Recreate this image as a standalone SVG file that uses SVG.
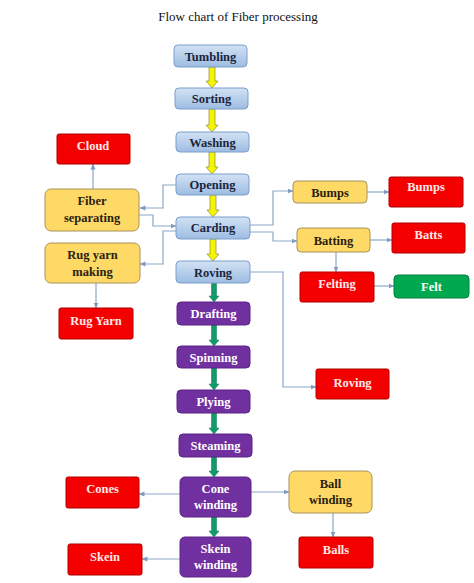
<svg xmlns="http://www.w3.org/2000/svg" width="474" height="583" viewBox="0 0 474 583">
<defs>
<linearGradient id="gBlue" x1="0" y1="0" x2="0" y2="1">
<stop offset="0" stop-color="#d3e2f4"/>
<stop offset="1" stop-color="#9dbce2"/>
</linearGradient>
<marker id="ah" markerWidth="6" markerHeight="6" refX="5.5" refY="3" orient="auto" markerUnits="userSpaceOnUse">
<path d="M0,0.5 L6,3 L0,5.5 Z" fill="#7f9cc0"/>
</marker>
<style>
.t{font-family:"Liberation Serif","Times New Roman",serif;font-size:12.5px;font-weight:bold;text-anchor:middle}
.title{font-family:"Liberation Serif","Times New Roman",serif;font-size:13px;text-anchor:middle;fill:#111}
.blue rect{fill:url(#gBlue);stroke:#7a9fcc;stroke-width:1}
.blue text{fill:#1b2540}
.yel rect{fill:#ffd966;stroke:#a8925a;stroke-width:1}
.yel text{fill:#2a2210}
.pur rect{fill:#7030a0;stroke:#5a2585;stroke-width:1}
.pur text{fill:#ffffff}
.red rect{fill:#f40000;stroke:#b00000;stroke-width:1}
.red text{fill:#ffe8e8}
.grn rect{fill:#00a94f;stroke:#00803c;stroke-width:1}
.grn text{fill:#ffffff}
.c{fill:none;stroke:#8ea8c8;stroke-width:1.2;marker-end:url(#ah)}
.ya{fill:#f5f500;stroke:#8a8a40;stroke-width:0.7}
.ga{fill:#139a6a;stroke:#0d7a52;stroke-width:0.5}
</style>
</defs>
<rect width="474" height="583" fill="#ffffff"/>
<text class="title" x="238" y="21">Flow chart of Fiber processing</text>

<g id="connectors">
<!-- main flow yellow arrows -->
<path class="ya" d="M209,67 H215 V81 H218 L212,88 L206,81 H209 Z"/>
<path class="ya" d="M209,109 H215 V125 H218 L212,132 L206,125 H209 Z"/>
<path class="ya" d="M209,152 H215 V167 H218 L212,174 L206,167 H209 Z"/>
<path class="ya" d="M210,195 H216 V210 H219 L213,217 L207,210 H210 Z"/>
<path class="ya" d="M210,239 H216 V254 H219 L213,261 L207,254 H210 Z"/>
<!-- green arrows -->
<path class="ga" d="M211.5,283 H216.5 V296 H219 L214,302 L209,296 H211.5 Z"/>
<path class="ga" d="M211.5,325 H216.5 V340 H219 L214,346 L209,340 H211.5 Z"/>
<path class="ga" d="M211.5,368 H216.5 V384 H219 L214,390 L209,384 H211.5 Z"/>
<path class="ga" d="M211.5,413 H216.5 V428 H219 L214,434 L209,428 H211.5 Z"/>
<path class="ga" d="M211.5,457 H216.5 V471 H219 L214,477 L209,471 H211.5 Z"/>
<path class="ga" d="M211.5,517 H216.5 V531 H219 L214,537 L209,531 H211.5 Z"/>
<!-- thin connectors -->
<path class="c" d="M93,189 V164"/>
<path class="c" d="M176,185 H163 V208 H140"/>
<path class="c" d="M139,215 H153 V226 H176"/>
<path class="c" d="M176,231 H163 V264 H140"/>
<path class="c" d="M96,283 V308"/>
<path class="c" d="M250,225 H273 V191 H293"/>
<path class="c" d="M250,232 H273 V241 H297"/>
<path class="c" d="M367,192 H389"/>
<path class="c" d="M370,240 H392"/>
<path class="c" d="M336,252 V272"/>
<path class="c" d="M374,286 H394"/>
<path class="c" d="M250,272 H283 V387 H316"/>
<path class="c" d="M180,494 H139"/>
<path class="c" d="M250,492 H289"/>
<path class="c" d="M180,559 H142"/>
<path class="c" d="M333,513 V537"/>
</g>

<g id="tumbling" class="blue"><rect x="174" y="45" width="73" height="22" rx="4"/><text class="t" x="210.5" y="60.5">Tumbling</text></g>
<g id="sorting" class="blue"><rect x="175" y="88" width="73" height="21" rx="4"/><text class="t" x="211.5" y="103">Sorting</text></g>
<g id="washing" class="blue"><rect x="176" y="132" width="73" height="20" rx="4"/><text class="t" x="212.5" y="146.5">Washing</text></g>
<g id="opening" class="blue"><rect x="176" y="174" width="73" height="21" rx="4"/><text class="t" x="212.5" y="189">Opening</text></g>
<g id="carding" class="blue"><rect x="176" y="217" width="74" height="22" rx="4"/><text class="t" x="213" y="232">Carding</text></g>
<g id="roving" class="blue"><rect x="176" y="261" width="74" height="22" rx="4"/><text class="t" x="213" y="276.5">Roving</text></g>

<g id="drafting" class="pur"><rect x="177" y="302" width="73" height="23" rx="4"/><text class="t" x="213.5" y="318">Drafting</text></g>
<g id="spinning" class="pur"><rect x="177" y="346" width="73" height="22" rx="4"/><text class="t" x="213.5" y="361.5">Spinning</text></g>
<g id="plying" class="pur"><rect x="177" y="390" width="73" height="23" rx="4"/><text class="t" x="213.5" y="406">Plying</text></g>
<g id="steaming" class="pur"><rect x="179" y="434" width="73" height="23" rx="4"/><text class="t" x="215.5" y="450">Steaming</text></g>
<g id="cone-winding" class="pur"><rect x="180" y="477" width="71" height="40" rx="5"/><text class="t" x="215.5" y="493">Cone</text><text class="t" x="215.5" y="509">winding</text></g>
<g id="skein-winding" class="pur"><rect x="180" y="537" width="71" height="40" rx="5"/><text class="t" x="215.5" y="553">Skein</text><text class="t" x="215.5" y="569">winding</text></g>

<g id="fiber-separating" class="yel"><rect x="45" y="189" width="94" height="42" rx="6"/><text class="t" x="92" y="205">Fiber</text><text class="t" x="92" y="222">separating</text></g>
<g id="rug-yarn-making" class="yel"><rect x="45" y="243" width="95" height="40" rx="6"/><text class="t" x="92.5" y="259">Rug yarn</text><text class="t" x="92.5" y="276">making</text></g>
<g id="bumps-proc" class="yel"><rect x="293" y="181" width="74" height="22" rx="4"/><text class="t" x="330" y="196.5">Bumps</text></g>
<g id="batting" class="yel"><rect x="297" y="228" width="73" height="24" rx="4"/><text class="t" x="333.5" y="244.5">Batting</text></g>
<g id="ball-winding" class="yel"><rect x="289" y="471" width="83" height="42" rx="6"/><text class="t" x="330.5" y="488">Ball</text><text class="t" x="330.5" y="504">winding</text></g>

<g id="cloud" class="red"><rect x="57" y="134" width="73" height="30" rx="2"/><text class="t" x="93" y="150">Cloud</text></g>
<g id="bumps-out" class="red"><rect x="389" y="177" width="74" height="30" rx="2"/><text class="t" x="426" y="191">Bumps</text></g>
<g id="batts" class="red"><rect x="392" y="223" width="73" height="30" rx="2"/><text class="t" x="428.5" y="239">Batts</text></g>
<g id="felting" class="red"><rect x="300" y="272" width="74" height="30" rx="2"/><text class="t" x="337" y="288">Felting</text></g>
<g id="felt" class="grn"><rect x="394" y="275" width="75" height="23" rx="4"/><text class="t" x="431.5" y="291">Felt</text></g>
<g id="rug-yarn" class="red"><rect x="59" y="308" width="74" height="31" rx="2"/><text class="t" x="96" y="325">Rug Yarn</text></g>
<g id="roving-out" class="red"><rect x="316" y="369" width="73" height="30" rx="2"/><text class="t" x="352.5" y="387">Roving</text></g>
<g id="cones" class="red"><rect x="66" y="477" width="73" height="31" rx="2"/><text class="t" x="102.5" y="493">Cones</text></g>
<g id="skein" class="red"><rect x="68" y="544" width="74" height="31" rx="2"/><text class="t" x="105" y="561">Skein</text></g>
<g id="balls" class="red"><rect x="299" y="537" width="74" height="31" rx="2"/><text class="t" x="336" y="554">Balls</text></g>
</svg>
